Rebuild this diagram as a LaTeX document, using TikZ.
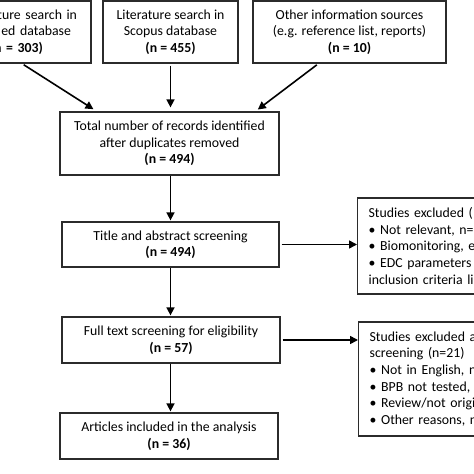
\documentclass[tikz,border=0pt]{standalone}
\usepackage{fontspec}
\setmainfont{Carlito}
\usetikzlibrary{arrows.meta,positioning,calc}
\definecolor{cadre}{HTML}{2B2B2B}
\tikzset{
  flowbox/.style={rectangle, draw=cadre, line width=1.3pt, align=center, inner sep=0pt,
                  font=\fontsize{13.8}{16.5}\selectfont},
  sidebox/.style={rectangle, draw=cadre, line width=1.3pt, align=left, anchor=west,
                  inner xsep=11pt, inner ysep=0pt, text width=200pt,
                  font=\fontsize{13.8}{16.7}\selectfont},
  arr/.style={-{Triangle[length=8pt,width=8pt]}, line width=1.6pt, draw=black},
}

\begin{document}
\begin{tikzpicture}[x=1pt, y=-1pt]
        \useasboundingbox (0,0) rectangle (474,474);
        \clip (0,0) rectangle (474,474);
        % sources
        \node[flowbox, minimum width=138, minimum height=62, text width=122pt, align=right] (pubmed) at (22,32)
          {ture search in\hspace{6pt}\mbox{}\\ ed database\hspace{12pt}\mbox{}\\ \textbf{n = 303)}\hspace{40pt}\mbox{}};
        \node[flowbox, minimum width=135, minimum height=62] (scopus) at (170.5,32)
          {Literature search in\\ Scopus database\\ \textbf{(n = 455)}};
        \node[flowbox, minimum width=193, minimum height=62] (other) at (349.5,32)
          {Other information sources\\ (e.g. reference list, reports)\\ \textbf{(n = 10)}};
        % main column
        \node[flowbox, minimum width=219, minimum height=63] (total) at (169.5,143.5)
          {Total number of records identified\\ after duplicates removed\\ \textbf{(n = 494)}};
        \node[flowbox, minimum width=217, minimum height=45] (title) at (170.5,244.5)
          {Title and abstract screening\\ \textbf{(n = 494)}};
        \node[flowbox, minimum width=218, minimum height=46] (full) at (171,340)
          {Full text screening for eligibility\\ \textbf{(n = 57)}};
        \node[flowbox, minimum width=218, minimum height=46] (incl) at (169,436)
          {Articles included in the analysis\\ \textbf{(n = 36)}};
        % exclusions
        \node[sidebox, minimum height=96] (excl1) at (357,246)
          {Studies excluded (\\ • Not relevant, n=\\ • Biomonitoring, e\\ • EDC parameters\\ inclusion criteria li};
        \node[sidebox, minimum height=114] (excl2) at (358,379)
          {Studies excluded a\\ screening (n=21)\\ • Not in English, n\\ • BPB not tested, n\\ • Review/not origi\\ • Other reasons, n};
        % arrows
        \draw[arr, shorten <=2pt, shorten >=4pt] (pubmed.south) -- ($(total.north west)!0.17!(total.north east)$);
        \draw[arr, shorten <=2pt, shorten >=4pt] (scopus.south) -- (scopus.south |- total.north);
        \draw[arr, shorten <=2pt, shorten >=3pt] ($(other.south west)!0.34!(other.south east)$) -- ($(total.north west)!0.89!(total.north east)$);
        \draw[arr, shorten >=1pt] (total.south -| scopus.south) -- (scopus.south |- title.north);
        \draw[arr, shorten >=1pt] (title.south -| scopus.south) -- (scopus.south |- full.north);
        \draw[arr, shorten >=1pt] (full.south -| scopus.south) -- (scopus.south |- incl.north);
        \draw[arr] ([xshift=2pt]title.east) -- (title.east -| excl1.west);
        \draw[arr] ([xshift=2pt]full.east) -- (full.east -| excl2.west);
      \end{tikzpicture}
\end{document}
